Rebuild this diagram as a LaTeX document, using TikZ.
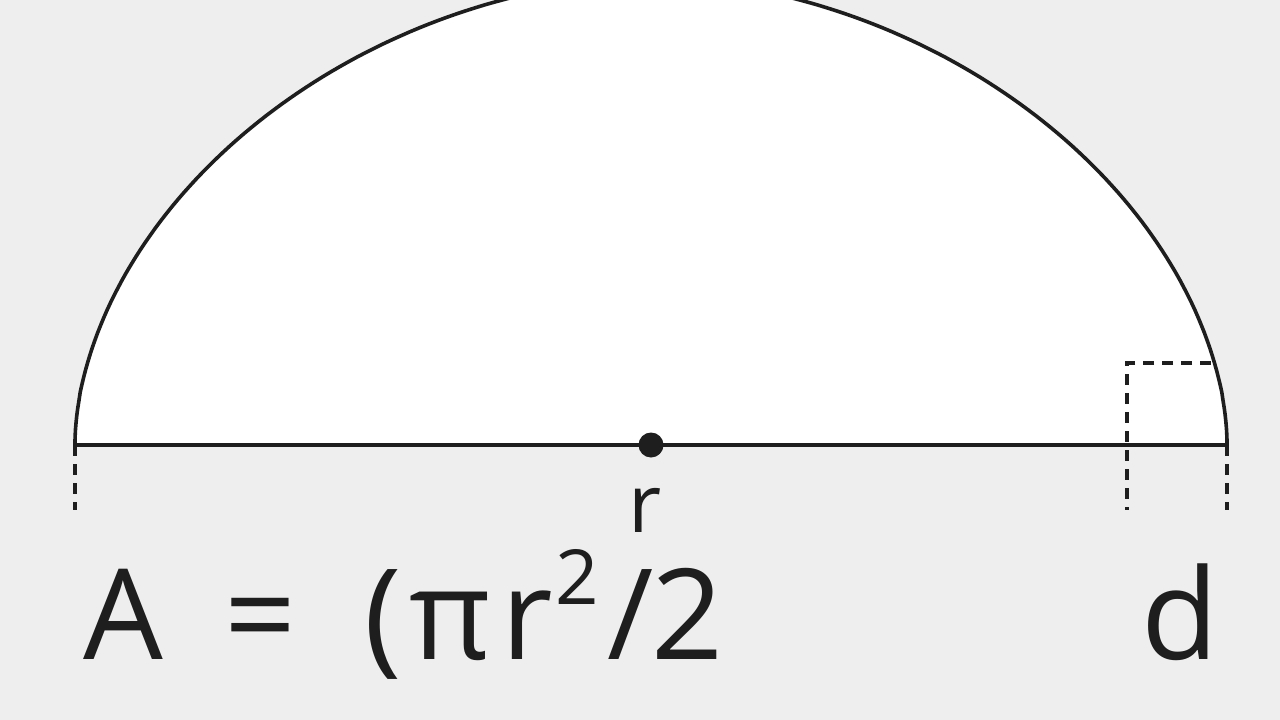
\documentclass[tikz,border=0pt]{standalone}
\usepackage{fontspec}
\setmainfont{Open Sans}
\definecolor{paper}{HTML}{EEEEEE}
\definecolor{ink}{HTML}{1E1E1E}
\tikzset{
  outline/.style={ink, line width=3.6pt, line join=round},
  guide/.style={ink, line width=3.2pt, dash pattern=on 11pt off 8pt},
  bigtext/.style={ink, inner sep=0pt, font=\fontsize{126}{126}\selectfont},
  smalltext/.style={ink, inner sep=0pt, font=\fontsize{81}{81}\selectfont},
}
\begin{document}
\begin{tikzpicture}[x=1pt, y=-1pt]
\fill[paper] (0,0) rectangle (1280,720);
\clip (0,0) rectangle (1280,720);
\coordinate (L) at (75,445);
\coordinate (R) at (1227,445);
\coordinate (O) at (651,445);
\coordinate (corner) at (1127,363);
\coordinate (rim) at (1211,363);
\coordinate (Lfoot) at (75,510);
\coordinate (Rfoot) at (1227,510);
\coordinate (Cfoot) at (1127,510);
% half disc
\filldraw[outline, fill=white] (R) -- plot[domain=0.5:179.5, samples=180] ({651+576*cos(\x)*abs(cos(\x))^0.081}, {445-466*abs(sin(\x))^1.081}) -- (L) -- cycle;
% right angle and ticks
\draw[guide] (rim) -- (corner) -- (Cfoot);
\draw[guide] (L) -- (Lfoot);
\draw[guide] (R) -- (Rfoot);
\fill[ink] (O) circle (12.5);
\node[smalltext, anchor=base] (rlabel) at (645,532) {r};
\node[bigtext, anchor=base west] (area) at (83,659) {A\hspace{29pt} =\hspace{35pt} (\hspace{8pt}π\hspace{10pt}r\hspace{2pt}\raisebox{55pt}{\fontsize{76}{76}\selectfont 2}\hspace{9pt}/\hspace{-2pt}2};
\node[bigtext, anchor=base west] (dlabel) at (1141,659) {d};
\end{tikzpicture}
\end{document}
